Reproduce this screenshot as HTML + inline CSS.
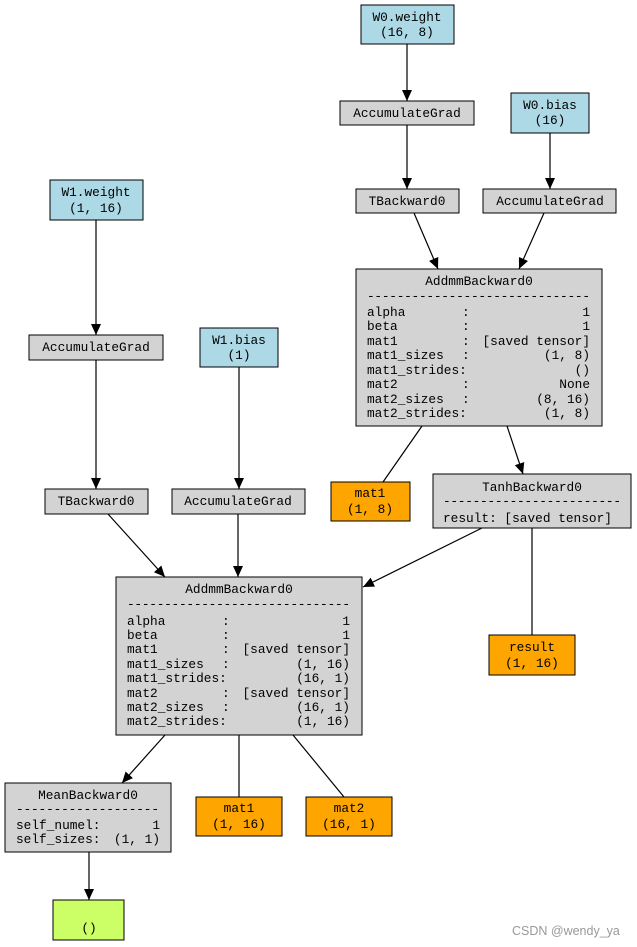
<!DOCTYPE html>
<html><head><meta charset="utf-8"><style>
html,body{margin:0;padding:0;background:#fff;}
svg{display:block;}
text{font-family:"Liberation Mono",monospace;font-size:12.8px;fill:#000;white-space:pre;}
</style></head><body>
<svg width="637" height="947" viewBox="0 0 637 947" xmlns="http://www.w3.org/2000/svg">
<defs><marker id="a" markerWidth="11" markerHeight="10" refX="11" refY="5" orient="auto" markerUnits="userSpaceOnUse"><polygon points="0,0 11,5 0,10" fill="#000"/></marker></defs>
<g stroke="#000" stroke-width="1.2" fill="none">
<line x1="407" y1="44" x2="407" y2="101" marker-end="url(#a)"/>
<line x1="407" y1="125" x2="407" y2="189" marker-end="url(#a)"/>
<line x1="550" y1="133" x2="550" y2="189" marker-end="url(#a)"/>
<line x1="414" y1="213" x2="438" y2="269" marker-end="url(#a)"/>
<line x1="544" y1="213" x2="519" y2="269" marker-end="url(#a)"/>
<line x1="422" y1="426" x2="383" y2="482"/>
<line x1="507" y1="426" x2="523" y2="474" marker-end="url(#a)"/>
<line x1="96" y1="220" x2="96" y2="335" marker-end="url(#a)"/>
<line x1="96" y1="360" x2="96" y2="489" marker-end="url(#a)"/>
<line x1="239" y1="367" x2="239" y2="489" marker-end="url(#a)"/>
<line x1="108" y1="514" x2="165" y2="577" marker-end="url(#a)"/>
<line x1="238" y1="514" x2="238" y2="577" marker-end="url(#a)"/>
<line x1="482" y1="528" x2="363" y2="587" marker-end="url(#a)"/>
<line x1="532" y1="528" x2="532" y2="635"/>
<line x1="165" y1="735" x2="122" y2="783" marker-end="url(#a)"/>
<line x1="239" y1="735" x2="239" y2="797"/>
<line x1="293" y1="735" x2="344" y2="797"/>
<line x1="89" y1="852" x2="89" y2="900" marker-end="url(#a)"/>
</g>
<g stroke="#000" stroke-width="1">
<rect x="361" y="5" width="93" height="39" fill="#add8e6"/>
<rect x="340" y="101" width="134" height="24" fill="#d3d3d3"/>
<rect x="511" y="93" width="78" height="40" fill="#add8e6"/>
<rect x="356" y="189" width="103" height="24" fill="#d3d3d3"/>
<rect x="483" y="189" width="133" height="24" fill="#d3d3d3"/>
<rect x="356" y="269" width="246" height="157" fill="#d3d3d3"/>
<rect x="331" y="482" width="79" height="39" fill="#ffa500"/>
<rect x="433" y="474" width="198" height="54" fill="#d3d3d3"/>
<rect x="50" y="180" width="93" height="40" fill="#add8e6"/>
<rect x="29" y="335" width="134" height="25" fill="#d3d3d3"/>
<rect x="200" y="328" width="78" height="39" fill="#add8e6"/>
<rect x="45" y="489" width="103" height="25" fill="#d3d3d3"/>
<rect x="172" y="489" width="133" height="25" fill="#d3d3d3"/>
<rect x="116" y="577" width="246" height="158" fill="#d3d3d3"/>
<rect x="489" y="635" width="86" height="40" fill="#ffa500"/>
<rect x="5" y="783" width="166" height="69" fill="#d3d3d3"/>
<rect x="196" y="797" width="86" height="39" fill="#ffa500"/>
<rect x="306" y="797" width="86" height="39" fill="#ffa500"/>
<rect x="53" y="900" width="71" height="40" fill="#ccff66"/>
</g>
<g text-anchor="middle">
<text x="407" y="21">W0.weight</text><text x="407" y="36">(16, 8)</text>
<text x="407" y="117">AccumulateGrad</text>
<text x="550" y="109">W0.bias</text><text x="550" y="124">(16)</text>
<text x="407" y="205">TBackward0</text>
<text x="550" y="205">AccumulateGrad</text>
<text x="479" y="285">AddmmBackward0</text>
<text x="370" y="497">mat1</text><text x="370" y="513">(1, 8)</text>
<text x="532" y="491">TanhBackward0</text>
<text x="96" y="196">W1.weight</text><text x="96" y="212">(1, 16)</text>
<text x="96" y="351">AccumulateGrad</text>
<text x="239" y="344">W1.bias</text><text x="239" y="359">(1)</text>
<text x="96" y="505">TBackward0</text>
<text x="238" y="505">AccumulateGrad</text>
<text x="239" y="593">AddmmBackward0</text>
<text x="532" y="651">result</text><text x="532" y="667">(1, 16)</text>
<text x="88" y="799">MeanBackward0</text>
<text x="239" y="812">mat1</text><text x="239" y="828">(1, 16)</text>
<text x="349" y="812">mat2</text><text x="349" y="828">(16, 1)</text>
<text x="89" y="932">()</text>
</g>
<g>
<text x="367" y="300" textLength="223">------------------------------</text>
<text x="367" y="316">alpha</text><text x="462" y="316">:</text><text x="590" y="316" text-anchor="end">1</text>
<text x="367" y="330">beta</text><text x="462" y="330">:</text><text x="590" y="330" text-anchor="end">1</text>
<text x="367" y="345">mat1</text><text x="462" y="345">:</text><text x="590" y="345" text-anchor="end">[saved tensor]</text>
<text x="367" y="359">mat1_sizes</text><text x="462" y="359">:</text><text x="590" y="359" text-anchor="end">(1, 8)</text>
<text x="367" y="374">mat1_strides:</text><text x="590" y="374" text-anchor="end">()</text>
<text x="367" y="388">mat2</text><text x="462" y="388">:</text><text x="590" y="388" text-anchor="end">None</text>
<text x="367" y="403">mat2_sizes</text><text x="462" y="403">:</text><text x="590" y="403" text-anchor="end">(8, 16)</text>
<text x="367" y="417">mat2_strides:</text><text x="590" y="417" text-anchor="end">(1, 8)</text>

<text x="443" y="505" textLength="178">------------------------</text>
<text x="443" y="522">result: [saved tensor]</text>

<text x="127" y="608" textLength="223">------------------------------</text>
<text x="127" y="625">alpha</text><text x="222" y="625">:</text><text x="350" y="625" text-anchor="end">1</text>
<text x="127" y="639">beta</text><text x="222" y="639">:</text><text x="350" y="639" text-anchor="end">1</text>
<text x="127" y="653">mat1</text><text x="222" y="653">:</text><text x="350" y="653" text-anchor="end">[saved tensor]</text>
<text x="127" y="668">mat1_sizes</text><text x="222" y="668">:</text><text x="350" y="668" text-anchor="end">(1, 16)</text>
<text x="127" y="682">mat1_strides:</text><text x="350" y="682" text-anchor="end">(16, 1)</text>
<text x="127" y="697">mat2</text><text x="222" y="697">:</text><text x="350" y="697" text-anchor="end">[saved tensor]</text>
<text x="127" y="711">mat2_sizes</text><text x="222" y="711">:</text><text x="350" y="711" text-anchor="end">(16, 1)</text>
<text x="127" y="725">mat2_strides:</text><text x="350" y="725" text-anchor="end">(1, 16)</text>

<text x="16" y="813" textLength="143">-------------------</text>
<text x="16" y="829">self_numel:</text><text x="160" y="829" text-anchor="end">1</text>
<text x="16" y="843">self_sizes:</text><text x="160" y="843" text-anchor="end">(1, 1)</text>
</g>
<text x="512" y="935" style="font-family:'Liberation Sans',sans-serif;font-size:12.5px;fill:#999">CSDN @wendy_ya</text>
</svg>
</body></html>
